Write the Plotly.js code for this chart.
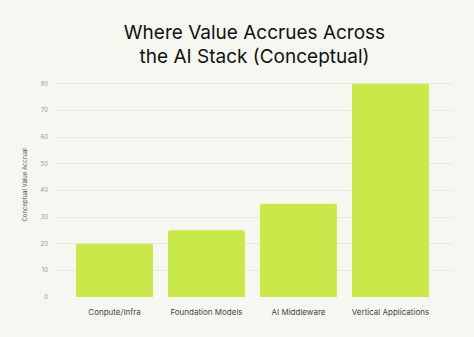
<!DOCTYPE html>
<html>
<head>
<meta charset="utf-8">
<script src="https://cdn.plot.ly/plotly-3.0.1.min.js"></script>
<style>html,body{margin:0;padding:0;background:#f7f7f2;}#chart{width:474px;height:337px;}</style>
</head>
<body>
<div id="chart"></div>
<script>
const categories = ["Compute/Infra", "Foundation Models", "AI Middleware", "Vertical Applications"];
const tickLabels = ["Conpute/Infra", "Foundation Models", "AI Middleware", "Vertical Applications"];
const values = [20, 25, 35, 80];
const yTicks = [0, 10, 20, 30, 40, 50, 60, 70, 80];

const trace = {
  type: "bar",
  x: [0, 1, 2, 3],
  y: values,
  marker: { color: "#c9e84a", cornerradius: 2, line: { width: 0 } },
  hoverinfo: "skip"
};

const layout = {
  width: 474, height: 337,
  paper_bgcolor: "#f7f7f2", plot_bgcolor: "#f7f7f2",
  margin: { l: 56, r: 21, t: 73, b: 40 },
  bargap: 0.163,
  showlegend: false,
  font: { family: "Inter, 'Noto Sans', sans-serif", color: "#333" },
  title: {
    text: "Where Value Accrues Across<br>the AI Stack (Conceptual)",
    font: { family: "Inter, sans-serif", size: 19, color: "#111111" },
    x: 0.5, xanchor: "center", y: 0.885, yanchor: "top", xref: "paper"
  },
  xaxis: {
    range: [-0.636, 3.68],
    tickmode: "array", tickvals: [0, 1, 2, 3], ticktext: tickLabels,
    tickfont: { size: 8, color: "#444" },
    showgrid: false, zeroline: false, showline: false, ticks: "",
    ticklabelstandoff: 9
  },
  yaxis: {
    range: [0, 84],
    tickmode: "array", tickvals: yTicks,
    tickfont: { size: 6, color: "#999" },
    gridcolor: "#e9e9e3", gridwidth: 1,
    zeroline: false, showline: false, ticks: "",
    ticklabelstandoff: 7,
    title: { text: "Conceptual Value Accrual", font: { size: 6, color: "#555" }, standoff: 12 }
  }
};

Plotly.newPlot("chart", [trace], layout, { displayModeBar: false, staticPlot: true });
</script>
</body>
</html>
